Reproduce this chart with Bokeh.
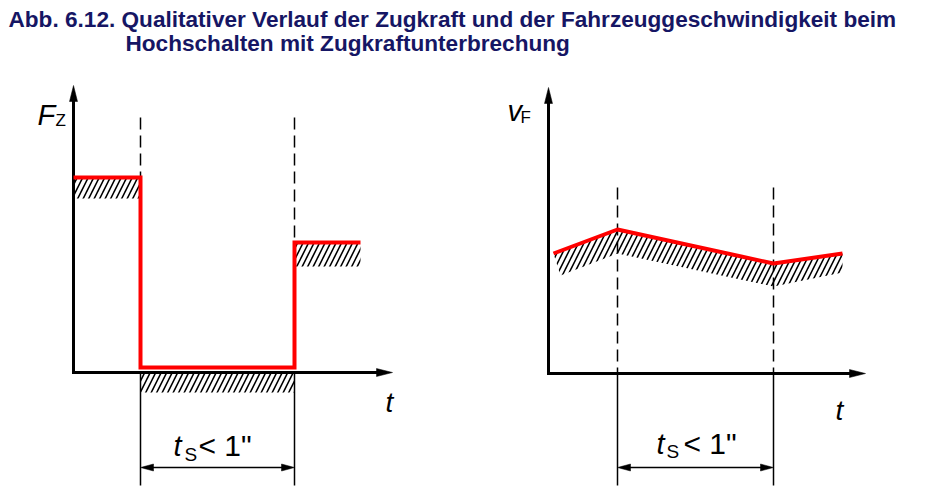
from bokeh.plotting import figure
from bokeh.models import Range1d
from bokeh.layouts import column, row
from bokeh.core.properties import value
from bokeh.embed import file_html
from bokeh.resources import INLINE

# ---------------- data ----------------
title_lines = ["Abb. 6.12. Qualitativer Verlauf der Zugkraft und der Fahrzeuggeschwindigkeit beim",
               "Hochschalten mit Zugkraftunterbrechung"]

# left panel: traction force F_Z over time (schematic units)
fz_shift_start = 67
fz_shift_end = 221
fz_t_end = 287
fz_t_axis = 319
fz_axis_top = 287
fz_gear1 = 195
fz_gear2 = 130
fz_gap = 5
fz_band = [21, 20, 24]          # depth of the hatched tolerance bands
fz_dash_top = 255

# right panel: vehicle speed v_F over time
vf_t = [5, 69, 225, 294]
vf_top = [120, 144, 110, 120]
vf_low_t = [12, 69, 225, 294]
vf_low = [98, 120, 87, 101]
vf_t_axis = 317
vf_axis_top = 286
vf_dash_top = 186

RED = "#ff0000"
FONT = "Liberation Sans"
DY = 8   # baseline correction for text glyphs


def make_fig(w, h, xr, yr):
    p = figure(width=w, height=h, x_range=Range1d(*xr), y_range=Range1d(*yr),
               output_backend="svg", toolbar_location=None, min_border=0,
               x_axis_type=None, y_axis_type=None)
    p.grid.visible = False
    p.outline_line_color = None
    p.background_fill_color = "white"
    p.border_fill_color = "white"
    return p


def axes(p, t_max, y_max):
    p.line([-1.5, t_max - 12], [0, 0], line_width=3, color="black")
    p.line([0, 0], [0, y_max - 12], line_width=3, color="black")
    p.patch([t_max - 16, t_max, t_max - 16], [-4, 0, 4], color="black", line_width=0.5)
    p.patch([-4, 0, 4], [y_max - 16, y_max, y_max - 16], color="black", line_width=0.5)


def dim_arrow(p, t0, t1, y, bottom):
    for t in (t0, t1):
        p.line([t, t], [0, bottom], line_width=1.5, color="black")
    p.line([t0 + 4, t1 - 4], [y, y], line_width=1.5, color="black")
    p.patch([t0, t0 + 13, t0 + 13], [y, y + 3.5, y - 3.5], color="black", line_width=0.5)
    p.patch([t1, t1 - 13, t1 - 13], [y, y + 3.5, y - 3.5], color="black", line_width=0.5)


def txt(p, x, y, s, size, style="normal"):
    p.text([x], [y + DY], text=[s], text_font=value(FONT), text_font_size=f"{size}px",
           text_font_style=style, text_color="black", text_baseline="alphabetic",
           text_align="left")


def hatch(p, xs, ys):
    p.patch(xs, ys, fill_alpha=0, line_color=None, hatch_pattern="/",
            hatch_color="black", hatch_scale=11, hatch_weight=1.6)


# ---------------- title ----------------
pt = make_fig(936, 60, (-8, 928), (52, -8))
pt.text([0, 117], [18.5 - DY, 42.5 - DY], text=title_lines, text_font=value(FONT),
        text_font_size="22.6px", text_font_style="bold", text_color="#161664",
        text_baseline="alphabetic")

# ---------------- left panel ----------------
pl = make_fig(468, 435, (-73, 395), (-123, 312))
hatch(pl, [0, fz_shift_start, fz_shift_start, 0],
      [fz_gear1, fz_gear1, fz_gear1 - fz_band[0], fz_gear1 - fz_band[0]])
hatch(pl, [fz_shift_start, fz_shift_end, fz_shift_end, fz_shift_start],
      [0, 0, -fz_band[1], -fz_band[1]])
hatch(pl, [fz_shift_end, fz_t_end, fz_t_end, fz_shift_end],
      [fz_gear2, fz_gear2, fz_gear2 - fz_band[2], fz_gear2 - fz_band[2]])
pl.line([fz_shift_start] * 2, [fz_dash_top, fz_gear1], line_dash="12 6", line_width=1.5, color="black")
pl.line([fz_shift_end] * 2, [fz_dash_top, fz_gear2], line_dash="12 6", line_width=1.5, color="black")
dim_arrow(pl, fz_shift_start, fz_shift_end, -95, -113)
axes(pl, fz_t_axis, fz_axis_top)
pl.line([0, fz_shift_start, fz_shift_start, fz_shift_end, fz_shift_end, fz_t_end],
        [fz_gear1, fz_gear1, fz_gap, fz_gap, fz_gear2, fz_gear2],
        line_width=4, color=RED, line_join="miter")
txt(pl, -36, 250, "F", 29, "italic")
txt(pl, -18, 244, "Z", 17)
txt(pl, 312, -38, "t", 28, "italic")
txt(pl, 100, -81, "t", 29, "italic")
txt(pl, 111, -90, "S", 19)
txt(pl, 125, -81, "< 1\"", 30)

# ---------------- right panel ----------------
pr = make_fig(468, 435, (-80, 388), (-122, 313))
hatch(pr, vf_t + vf_low_t[::-1], vf_top + vf_low[::-1])
for t in (vf_t[1], vf_t[2]):
    pr.line([t, t], [vf_dash_top, 0], line_dash="12 6", line_width=1.5, color="black")
dim_arrow(pr, vf_t[1], vf_t[2], -94, -112)
axes(pr, vf_t_axis, vf_axis_top)
pr.line(vf_t, vf_top, line_width=4, color=RED)
txt(pr, -41, 255, "v", 29, "italic")
txt(pr, -28, 248, "F", 17)
txt(pr, 287, -45, "t", 28, "italic")
txt(pr, 108, -78, "t", 29, "italic")
txt(pr, 118, -86, "S", 19)
txt(pr, 135, -78, "< 1\"", 30)

layout = column(pt, row(pl, pr, spacing=0), spacing=0)
open("out.html", "w").write(file_html(layout, INLINE))
